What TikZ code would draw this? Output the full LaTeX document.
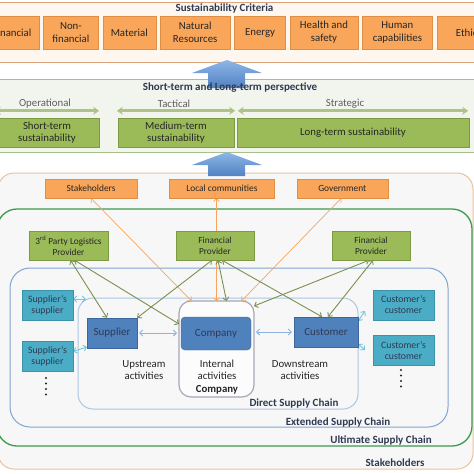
\documentclass[tikz,border=0pt]{standalone}
\usepackage{fontspec}
\setmainfont{Carlito}
\usetikzlibrary{arrows.meta,positioning,backgrounds}

\definecolor{critfill}{HTML}{F9A65A}
\definecolor{critline}{HTML}{DE8E45}
\definecolor{greenfill}{HTML}{9BBB59}
\definecolor{greenline}{HTML}{7C9A43}
\definecolor{bluefill}{HTML}{4F81BD}
\definecolor{blueline}{HTML}{3B679D}
\definecolor{cyanfill}{HTML}{4BACC6}
\definecolor{cyanline}{HTML}{3A93AB}
\definecolor{boxtext}{HTML}{262626}
\definecolor{labtext}{HTML}{2F3A52}
\definecolor{greytext}{HTML}{5E5E5E}
\definecolor{panelA}{HTML}{FDF7F0}
\definecolor{panelAline}{HTML}{D9A27C}
\definecolor{panelB}{HTML}{F2F5EE}
\definecolor{panelBline}{HTML}{A9BF8B}
\definecolor{shfill}{HTML}{F7F7F7}
\definecolor{shline}{HTML}{E9C29C}
\definecolor{ultline}{HTML}{3C9A4C}
\definecolor{extline}{HTML}{80A5D3}
\definecolor{dirline}{HTML}{ADC6E3}
\definecolor{compline}{HTML}{A9A7B6}
\definecolor{orangearr}{HTML}{F5A562}
\definecolor{olivearr}{HTML}{7D8F4F}
\definecolor{bluearr}{HTML}{8FB3DE}
\definecolor{cyanarr}{HTML}{73C7DC}
\definecolor{horarr}{HTML}{AFC388}
\definecolor{blkA}{HTML}{8DB6E8}
\definecolor{blkB}{HTML}{5182C2}

\begin{document}
\begin{tikzpicture}
[x=1pt, y=-1pt,
crit/.style={rectangle, fill=critfill, draw=critline, minimum height=33pt, inner sep=1pt, align=center, text=boxtext, font=\fontsize{10.8}{13}\selectfont},
hor/.style={rectangle, fill=greenfill, draw=greenline, minimum height=29pt, inner sep=1pt, align=center, text=boxtext, font=\fontsize{10.8}{12}\selectfont},
sh/.style={rectangle, fill=critfill, draw=critline, minimum height=19pt, inner sep=1pt, align=center, text=boxtext, font=\fontsize{9.4}{11}\selectfont},
prov/.style={rectangle, fill=greenfill, draw=greenline, minimum height=29pt, inner sep=1pt, align=center, text=boxtext, font=\fontsize{9.3}{11}\selectfont},
core/.style={rectangle, fill=bluefill, draw=blueline, inner sep=1pt, align=center, text=labtext, font=\fontsize{11}{13}\selectfont},
outer/.style={rectangle, fill=cyanfill, draw=cyanline, minimum height=30pt, inner sep=1pt, align=center, text=labtext, font=\fontsize{9.8}{11}\selectfont},
panel/.style={rectangle, inner sep=0pt, outer sep=0pt},
frame/.style={rectangle, inner sep=0pt, outer sep=0pt, line width=1pt},
title/.style={text=labtext, font=\bfseries\fontsize{11}{13}\selectfont},
chainlab/.style={text=labtext, font=\bfseries\fontsize{11}{13}\selectfont, inner sep=1pt},
horlab/.style={text=greytext, font=\fontsize{10.8}{13}\selectfont},
act/.style={align=center, text=boxtext, font=\fontsize{10.8}{12.5}\selectfont},
horarrow/.style={{Stealth[length=6pt,width=8pt]}-{Stealth[length=6pt,width=8pt]}, draw=horarr, line width=2.8pt},
oarrow/.style={<->, draw=orangearr, line width=0.7pt},
garrow/.style={<->, draw=olivearr, line width=0.9pt},
barrow/.style={<->, draw=bluearr, line width=0.9pt},
carrow/.style={<->, draw=cyanarr, line width=0.9pt},
>/.tip={Straight Barb[length=3pt, width=6pt]}]

	\useasboundingbox (0,0) rectangle (474,474);

	% sustainability criteria
	\node (fin) at (12,32.5) [crit, minimum width=54pt]{Financial};
	\node (nonfin) [crit, right=4pt of fin, minimum width=55pt]{Non-\\financial};
	\node (mat) [crit, right=4pt of nonfin, minimum width=53pt]{Material};
	\node (natres) [crit, right=4pt of mat, minimum width=70pt]{Natural\\Resources};
	\node (energy) [crit, right=4pt of natres, minimum width=51pt]{Energy};
	\node (health) [crit, right=4pt of energy, minimum width=68pt]{Health and\\safety};
	\node (human) [crit, right=4pt of health, minimum width=70pt]{Human\\capabilities};
	\node (ethics) [crit, right=4pt of human, minimum width=64pt]{Ethics};

	% time horizons
	\node (short) at (47,132.5) [hor, minimum width=104pt]{Short-term\\sustainability};
	\node (medium) at (176,132.5) [hor, minimum width=116pt]{Medium-term\\sustainability};
	\node (long) at (353,132.5) [hor, minimum width=232pt]{Long-term sustainability};

	\node (oplab) at ([xshift=-2pt,yshift=14pt]short.north) [horlab]{Operational};
	\node (taclab) at ([xshift=-2pt,yshift=14pt]medium.north) [horlab]{Tactical};
	\node (strlab) at ([xshift=-8pt,yshift=14pt]long.north) [horlab]{Strategic};

	% stakeholders
	\node (shold) at (91,188.5) [sh, minimum width=92pt]{Stakeholders};
	\node (local) [sh, right=32pt of shold, minimum width=105pt]{Local communities};
	\node (gov) [sh, right=22pt of local, minimum width=91pt]{Government};

	% providers
	\node (tpl) at (68.5,245.5) [prov, minimum width=79pt]{3\textsuperscript{rd} Party Logistics\\Provider};
	\node (finmid) at (215,245.5) [prov, minimum width=78pt]{Financial\\Provider};
	\node (finright) at (371,245.5) [prov, minimum width=78pt]{Financial\\Provider};

	% supply chain members
	\node (sup) at (112,333) [core, minimum width=50pt, minimum height=30pt]{Supplier};
	\node (comp) at (216,333.5) [core, rounded corners=4pt, minimum width=70pt, minimum height=33pt]{Company};
	\node (cus) at (326,332) [core, minimum width=64pt, minimum height=30pt]{Customer};

	\node (ss1) at (47.5,305) [outer, minimum width=51pt]{Supplier's\\supplier};
	\node (ss2) [outer, below=21pt of ss1, minimum width=51pt]{Supplier's\\supplier};
	\node (cc1) at (403.5,305) [outer, minimum width=61pt]{Customer's\\customer};
	\node (cc2) [outer, below=15pt of cc1, minimum width=61pt]{Customer's\\customer};

	\foreach \y in {378,383.5,389,394.5}
		\fill[boxtext] (46,\y) circle (1.1pt);
	\foreach \y in {370,375.5,381,386.5}
		\fill[boxtext] (401,\y) circle (1.1pt);

	\node (upact) at (144,370) [act]{Upstream\\activities};
	\node (intact) at (217,377) [act]{Internal\\activities\\\textbf{Company}};
	\node (downact) at (300,370) [act]{Downstream\\activities};

	\coordinate (dsc1) at (86,299);
	\coordinate (dsc2) at (87,347);
	\coordinate (dsc3) at (365,311);
	\coordinate (dsc4) at (365,350);

	\begin{scope}[on background layer]

	\fill[white] (0,0) rectangle (474,474);

	\node (critpanel) at (237,32) [panel, fill=panelA, draw=panelAline, minimum width=490pt, minimum height=60pt]{};
	\node (horpanel) at (237,115.5) [panel, fill=panelB, draw=panelBline, line width=0.8pt, minimum width=490pt, minimum height=73pt]{};

	\node (stake) at (235.5,321) [frame, draw=shline, fill=shfill, rounded corners=16pt, minimum width=475pt, minimum height=296pt]{};
	\node (ult) at (234.5,327.5) [frame, draw=ultline, line width=1.3pt, rounded corners=20pt, minimum width=475pt, minimum height=237pt]{};
	\node (ext) at (229,347.5) [frame, draw=extline, rounded corners=20pt, minimum width=438pt, minimum height=159pt]{};
	\node (dir) at (218,353.5) [frame, draw=dirline, rounded corners=15pt, minimum width=280pt, minimum height=111pt]{};
	\node (compreg) at (216.5,349) [frame, draw=compline, fill=white!60!shfill, line width=1.2pt, rounded corners=12pt, minimum width=75pt, minimum height=96pt]{};

	% upward block arrows
	\shade[top color=blkA, bottom color=blkB] (192,73) -- (227,60) -- (262,73) -- (245,73) -- (245,88) -- (208,88) -- (208,73) -- cycle;
	\shade[top color=blkA, bottom color=blkB] (192,165) -- (227,152) -- (262,165) -- (245,165) -- (245,176) -- (208,176) -- (208,165) -- cycle;

	\draw[oarrow] (shold.south) -- ([xshift=-25pt]compreg.north);
	\draw[oarrow] (local.south -| compreg.north) -- (compreg.north);
	\draw[oarrow] ([xshift=-1pt]gov.south) -- ([xshift=25pt]compreg.north);

	\draw[garrow] ([xshift=2pt]tpl.south) -- ([xshift=-5pt]sup.north);
	\draw[garrow] ([xshift=6pt]tpl.south) -- ([yshift=25pt]compreg.west);
	\draw[garrow] ([xshift=-3pt]finmid.south) -- (sup.north east);
	\draw[garrow] ([xshift=3pt]finmid.south) -- ([xshift=10pt]compreg.north);
	\draw[garrow] ([xshift=7pt]finmid.south) -- ([xshift=-4pt]cus.north);
	\draw[garrow] ([xshift=-2pt]finright.south) -- ([yshift=-5pt]compreg.north east);
	\draw[garrow] ([xshift=2pt]finright.south) -- ([xshift=2pt]cus.north);

	\draw[barrow] ([xshift=2pt]sup.east) -- ([xshift=-2pt]sup.east -| compreg.west);
	\draw[barrow] ([xshift=2pt]cus.west -| compreg.east) -- ([xshift=-2pt]cus.west);

	\draw[carrow] ([yshift=6pt]ss1.east) -- (dsc1);
	\draw[carrow] ([yshift=5pt]ss2.east) -- (dsc2);
	\draw[carrow] ([yshift=11pt]cus.east) -- (dsc3);
	\draw[carrow] ([yshift=-12pt]cus.east) -- (dsc4);

	\end{scope}

	\draw[horarrow] ([yshift=7pt]short.north west) -- ([yshift=7pt]short.north east);
	\draw[horarrow] ([xshift=-1pt,yshift=7pt]medium.north west) -- ([xshift=1pt,yshift=7pt]medium.north east);
	\draw[horarrow] ([xshift=1pt,yshift=7pt]long.north west) -- ([xshift=-1pt,yshift=7pt]long.north east);

	\node (crittitle) at (224.5,8.5) [title]{Sustainability Criteria};
	\node (hortitle) at (230,88) [title]{Short-term and Long-term perspective};

	\node (dirlab) at (294,403) [chainlab]{Direct Supply Chain};
	\node (extlab) at (338,423) [chainlab]{Extended Supply Chain};
	\node (ultlab) at (381,440.5) [chainlab]{Ultimate Supply Chain};
	\node (shlab) at (395,463) [chainlab]{Stakeholders};

\end{tikzpicture}
\end{document}
